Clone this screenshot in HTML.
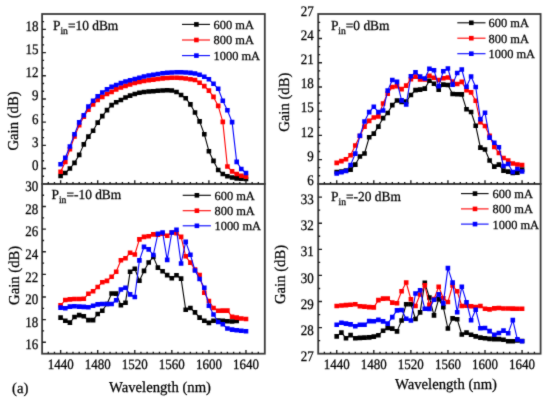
<!DOCTYPE html>
<html><head><meta charset="utf-8"><style>
html,body{margin:0;padding:0;background:#fff;}
body{width:550px;height:399px;overflow:hidden;}
svg{display:block;}
text{text-rendering:geometricPrecision;font-family:"Liberation Serif", serif;fill:#000;stroke:#000;stroke-width:0.25px;}
</style></head><body>
<svg width="550" height="399" viewBox="0 0 550 399">
<defs><filter id="soft" x="0" y="0" width="550" height="399" filterUnits="userSpaceOnUse" color-interpolation-filters="sRGB"><feConvolveMatrix order="3" kernelMatrix="0.02 0.08 0.02 0.08 0.60 0.08 0.02 0.08 0.02" divisor="1" edgeMode="duplicate"/></filter></defs>
<rect width="550" height="399" fill="#fff"/>
<g filter="url(#soft)">
<polyline points="60.6,176.0 65.3,173.0 69.9,168.5 74.5,162.9 79.2,154.9 83.8,144.4 88.4,136.6 93.1,130.8 97.7,122.6 102.3,116.1 107.0,110.1 111.6,105.1 116.2,102.3 120.9,100.0 125.5,97.5 130.1,95.6 134.8,94.0 139.4,92.8 144.0,92.0 148.7,91.5 153.3,91.2 157.9,90.8 162.6,90.5 167.2,90.3 171.8,90.5 176.5,92.0 181.1,95.0 185.7,98.2 190.4,104.4 195.0,112.5 199.6,121.4 204.3,134.2 208.9,151.2 213.5,160.9 218.2,170.0 222.8,174.0 227.4,176.3 232.1,177.5 236.7,178.4 241.3,178.8 246.0,179.0" fill="none" stroke="#000" stroke-width="1.10" stroke-linejoin="round"/>
<path d="M58.3 173.7h4.6v4.6h-4.6zM63.0 170.7h4.6v4.6h-4.6zM67.6 166.2h4.6v4.6h-4.6zM72.2 160.6h4.6v4.6h-4.6zM76.9 152.6h4.6v4.6h-4.6zM81.5 142.1h4.6v4.6h-4.6zM86.1 134.3h4.6v4.6h-4.6zM90.8 128.5h4.6v4.6h-4.6zM95.4 120.3h4.6v4.6h-4.6zM100.0 113.8h4.6v4.6h-4.6zM104.7 107.8h4.6v4.6h-4.6zM109.3 102.8h4.6v4.6h-4.6zM113.9 100.0h4.6v4.6h-4.6zM118.6 97.7h4.6v4.6h-4.6zM123.2 95.2h4.6v4.6h-4.6zM127.8 93.3h4.6v4.6h-4.6zM132.5 91.7h4.6v4.6h-4.6zM137.1 90.5h4.6v4.6h-4.6zM141.7 89.7h4.6v4.6h-4.6zM146.4 89.2h4.6v4.6h-4.6zM151.0 88.9h4.6v4.6h-4.6zM155.6 88.5h4.6v4.6h-4.6zM160.3 88.2h4.6v4.6h-4.6zM164.9 88.0h4.6v4.6h-4.6zM169.5 88.2h4.6v4.6h-4.6zM174.2 89.7h4.6v4.6h-4.6zM178.8 92.7h4.6v4.6h-4.6zM183.4 95.9h4.6v4.6h-4.6zM188.1 102.1h4.6v4.6h-4.6zM192.7 110.2h4.6v4.6h-4.6zM197.3 119.1h4.6v4.6h-4.6zM202.0 131.9h4.6v4.6h-4.6zM206.6 148.9h4.6v4.6h-4.6zM211.2 158.6h4.6v4.6h-4.6zM215.9 167.7h4.6v4.6h-4.6zM220.5 171.7h4.6v4.6h-4.6zM225.1 174.0h4.6v4.6h-4.6zM229.8 175.2h4.6v4.6h-4.6zM234.4 176.1h4.6v4.6h-4.6zM239.0 176.5h4.6v4.6h-4.6zM243.7 176.7h4.6v4.6h-4.6z" fill="#000"/>
<polyline points="60.6,171.7 65.3,162.0 69.9,149.3 74.5,136.5 79.2,125.2 83.8,116.7 88.4,109.6 93.1,104.5 97.7,100.0 102.3,96.9 107.0,94.0 111.6,91.9 116.2,89.4 120.9,87.5 125.5,85.9 130.1,84.4 134.8,83.0 139.4,81.9 144.0,81.0 148.7,80.3 153.3,79.6 157.9,79.0 162.6,78.4 167.2,78.0 171.8,77.8 176.5,77.8 181.1,78.0 185.7,78.5 190.4,79.3 195.0,80.0 199.6,82.7 204.3,86.1 208.9,90.6 213.5,96.9 218.2,105.9 222.8,121.9 227.4,166.5 232.1,171.4 236.7,174.0 241.3,175.8 246.0,176.7" fill="none" stroke="#f00" stroke-width="1.10" stroke-linejoin="round"/>
<path d="M58.3 169.4h4.6v4.6h-4.6zM63.0 159.7h4.6v4.6h-4.6zM67.6 147.0h4.6v4.6h-4.6zM72.2 134.2h4.6v4.6h-4.6zM76.9 122.9h4.6v4.6h-4.6zM81.5 114.4h4.6v4.6h-4.6zM86.1 107.3h4.6v4.6h-4.6zM90.8 102.2h4.6v4.6h-4.6zM95.4 97.7h4.6v4.6h-4.6zM100.0 94.6h4.6v4.6h-4.6zM104.7 91.7h4.6v4.6h-4.6zM109.3 89.6h4.6v4.6h-4.6zM113.9 87.1h4.6v4.6h-4.6zM118.6 85.2h4.6v4.6h-4.6zM123.2 83.6h4.6v4.6h-4.6zM127.8 82.1h4.6v4.6h-4.6zM132.5 80.7h4.6v4.6h-4.6zM137.1 79.6h4.6v4.6h-4.6zM141.7 78.7h4.6v4.6h-4.6zM146.4 78.0h4.6v4.6h-4.6zM151.0 77.3h4.6v4.6h-4.6zM155.6 76.7h4.6v4.6h-4.6zM160.3 76.1h4.6v4.6h-4.6zM164.9 75.7h4.6v4.6h-4.6zM169.5 75.5h4.6v4.6h-4.6zM174.2 75.5h4.6v4.6h-4.6zM178.8 75.7h4.6v4.6h-4.6zM183.4 76.2h4.6v4.6h-4.6zM188.1 77.0h4.6v4.6h-4.6zM192.7 77.7h4.6v4.6h-4.6zM197.3 80.4h4.6v4.6h-4.6zM202.0 83.8h4.6v4.6h-4.6zM206.6 88.3h4.6v4.6h-4.6zM211.2 94.6h4.6v4.6h-4.6zM215.9 103.6h4.6v4.6h-4.6zM220.5 119.6h4.6v4.6h-4.6zM225.1 164.2h4.6v4.6h-4.6zM229.8 169.1h4.6v4.6h-4.6zM234.4 171.7h4.6v4.6h-4.6zM239.0 173.5h4.6v4.6h-4.6zM243.7 174.4h4.6v4.6h-4.6z" fill="#f00"/>
<polyline points="60.6,164.2 65.3,157.8 69.9,146.5 74.5,134.3 79.2,122.4 83.8,115.2 88.4,106.5 93.1,100.8 97.7,96.2 102.3,92.5 107.0,89.4 111.6,86.9 116.2,85.0 120.9,83.1 125.5,81.5 130.1,80.3 134.8,79.0 139.4,77.8 144.0,76.5 148.7,75.5 153.3,74.8 157.9,74.0 162.6,73.3 167.2,72.8 171.8,72.5 176.5,72.3 181.1,72.3 185.7,72.5 190.4,72.9 195.0,73.5 199.6,74.8 204.3,76.7 208.9,79.3 213.5,83.8 218.2,88.8 222.8,100.8 227.4,110.3 232.1,122.1 236.7,161.9 241.3,169.0 246.0,173.0" fill="none" stroke="#00f" stroke-width="1.10" stroke-linejoin="round"/>
<path d="M58.3 161.9h4.6v4.6h-4.6zM63.0 155.5h4.6v4.6h-4.6zM67.6 144.2h4.6v4.6h-4.6zM72.2 132.0h4.6v4.6h-4.6zM76.9 120.1h4.6v4.6h-4.6zM81.5 112.9h4.6v4.6h-4.6zM86.1 104.2h4.6v4.6h-4.6zM90.8 98.5h4.6v4.6h-4.6zM95.4 93.9h4.6v4.6h-4.6zM100.0 90.2h4.6v4.6h-4.6zM104.7 87.1h4.6v4.6h-4.6zM109.3 84.6h4.6v4.6h-4.6zM113.9 82.7h4.6v4.6h-4.6zM118.6 80.8h4.6v4.6h-4.6zM123.2 79.2h4.6v4.6h-4.6zM127.8 78.0h4.6v4.6h-4.6zM132.5 76.7h4.6v4.6h-4.6zM137.1 75.5h4.6v4.6h-4.6zM141.7 74.2h4.6v4.6h-4.6zM146.4 73.2h4.6v4.6h-4.6zM151.0 72.5h4.6v4.6h-4.6zM155.6 71.7h4.6v4.6h-4.6zM160.3 71.0h4.6v4.6h-4.6zM164.9 70.5h4.6v4.6h-4.6zM169.5 70.2h4.6v4.6h-4.6zM174.2 70.0h4.6v4.6h-4.6zM178.8 70.0h4.6v4.6h-4.6zM183.4 70.2h4.6v4.6h-4.6zM188.1 70.6h4.6v4.6h-4.6zM192.7 71.2h4.6v4.6h-4.6zM197.3 72.5h4.6v4.6h-4.6zM202.0 74.4h4.6v4.6h-4.6zM206.6 77.0h4.6v4.6h-4.6zM211.2 81.5h4.6v4.6h-4.6zM215.9 86.5h4.6v4.6h-4.6zM220.5 98.5h4.6v4.6h-4.6zM225.1 108.0h4.6v4.6h-4.6zM229.8 119.8h4.6v4.6h-4.6zM234.4 159.6h4.6v4.6h-4.6zM239.0 166.7h4.6v4.6h-4.6zM243.7 170.7h4.6v4.6h-4.6z" fill="#00f"/>
<polyline points="336.7,172.0 341.4,171.5 346.0,170.5 350.6,169.6 355.3,164.6 359.9,156.5 364.5,153.5 369.2,137.3 373.8,133.6 378.4,126.6 383.1,118.1 387.7,113.0 392.3,105.1 397.0,100.5 401.6,102.0 406.2,101.5 410.9,95.0 415.5,90.1 420.1,89.6 424.8,88.6 429.4,80.7 434.0,83.7 438.7,89.6 443.3,84.6 447.9,85.0 452.6,94.0 457.2,94.3 461.8,94.4 466.5,109.3 471.1,112.0 475.7,125.7 480.4,147.6 485.0,149.5 489.6,160.5 494.3,166.6 498.9,164.6 503.5,170.6 508.2,171.6 512.8,173.0 517.4,172.6 522.1,169.6" fill="none" stroke="#000" stroke-width="1.10" stroke-linejoin="round"/>
<path d="M334.4 169.7h4.6v4.6h-4.6zM339.1 169.2h4.6v4.6h-4.6zM343.7 168.2h4.6v4.6h-4.6zM348.3 167.3h4.6v4.6h-4.6zM353.0 162.3h4.6v4.6h-4.6zM357.6 154.2h4.6v4.6h-4.6zM362.2 151.2h4.6v4.6h-4.6zM366.9 135.0h4.6v4.6h-4.6zM371.5 131.3h4.6v4.6h-4.6zM376.1 124.3h4.6v4.6h-4.6zM380.8 115.8h4.6v4.6h-4.6zM385.4 110.7h4.6v4.6h-4.6zM390.0 102.8h4.6v4.6h-4.6zM394.7 98.2h4.6v4.6h-4.6zM399.3 99.7h4.6v4.6h-4.6zM403.9 99.2h4.6v4.6h-4.6zM408.6 92.7h4.6v4.6h-4.6zM413.2 87.8h4.6v4.6h-4.6zM417.8 87.3h4.6v4.6h-4.6zM422.5 86.3h4.6v4.6h-4.6zM427.1 78.4h4.6v4.6h-4.6zM431.7 81.4h4.6v4.6h-4.6zM436.4 87.3h4.6v4.6h-4.6zM441.0 82.3h4.6v4.6h-4.6zM445.6 82.7h4.6v4.6h-4.6zM450.3 91.7h4.6v4.6h-4.6zM454.9 92.0h4.6v4.6h-4.6zM459.5 92.1h4.6v4.6h-4.6zM464.2 107.0h4.6v4.6h-4.6zM468.8 109.7h4.6v4.6h-4.6zM473.4 123.4h4.6v4.6h-4.6zM478.1 145.3h4.6v4.6h-4.6zM482.7 147.2h4.6v4.6h-4.6zM487.3 158.2h4.6v4.6h-4.6zM492.0 164.3h4.6v4.6h-4.6zM496.6 162.3h4.6v4.6h-4.6zM501.2 168.3h4.6v4.6h-4.6zM505.9 169.3h4.6v4.6h-4.6zM510.5 170.7h4.6v4.6h-4.6zM515.1 170.3h4.6v4.6h-4.6zM519.8 167.3h4.6v4.6h-4.6z" fill="#000"/>
<polyline points="336.7,162.9 341.4,161.1 346.0,159.3 350.6,155.3 355.3,145.5 359.9,136.0 364.5,126.6 369.2,120.9 373.8,117.5 378.4,116.4 383.1,103.5 387.7,93.6 392.3,87.0 397.0,86.2 401.6,89.1 406.2,85.6 410.9,79.2 415.5,76.6 420.1,79.5 424.8,79.5 429.4,75.8 434.0,77.8 438.7,80.0 443.3,78.2 447.9,77.5 452.6,81.6 457.2,84.0 461.8,81.9 466.5,90.3 471.1,92.4 475.7,100.8 480.4,122.3 485.0,126.0 489.6,135.7 494.3,147.0 498.9,153.0 503.5,158.0 508.2,160.5 512.8,163.5 517.4,164.5 522.1,165.0" fill="none" stroke="#f00" stroke-width="1.10" stroke-linejoin="round"/>
<path d="M334.4 160.6h4.6v4.6h-4.6zM339.1 158.8h4.6v4.6h-4.6zM343.7 157.0h4.6v4.6h-4.6zM348.3 153.0h4.6v4.6h-4.6zM353.0 143.2h4.6v4.6h-4.6zM357.6 133.7h4.6v4.6h-4.6zM362.2 124.3h4.6v4.6h-4.6zM366.9 118.6h4.6v4.6h-4.6zM371.5 115.2h4.6v4.6h-4.6zM376.1 114.1h4.6v4.6h-4.6zM380.8 101.2h4.6v4.6h-4.6zM385.4 91.3h4.6v4.6h-4.6zM390.0 84.7h4.6v4.6h-4.6zM394.7 83.9h4.6v4.6h-4.6zM399.3 86.8h4.6v4.6h-4.6zM403.9 83.3h4.6v4.6h-4.6zM408.6 76.9h4.6v4.6h-4.6zM413.2 74.3h4.6v4.6h-4.6zM417.8 77.2h4.6v4.6h-4.6zM422.5 77.2h4.6v4.6h-4.6zM427.1 73.5h4.6v4.6h-4.6zM431.7 75.5h4.6v4.6h-4.6zM436.4 77.7h4.6v4.6h-4.6zM441.0 75.9h4.6v4.6h-4.6zM445.6 75.2h4.6v4.6h-4.6zM450.3 79.3h4.6v4.6h-4.6zM454.9 81.7h4.6v4.6h-4.6zM459.5 79.6h4.6v4.6h-4.6zM464.2 88.0h4.6v4.6h-4.6zM468.8 90.1h4.6v4.6h-4.6zM473.4 98.5h4.6v4.6h-4.6zM478.1 120.0h4.6v4.6h-4.6zM482.7 123.7h4.6v4.6h-4.6zM487.3 133.4h4.6v4.6h-4.6zM492.0 144.7h4.6v4.6h-4.6zM496.6 150.7h4.6v4.6h-4.6zM501.2 155.7h4.6v4.6h-4.6zM505.9 158.2h4.6v4.6h-4.6zM510.5 161.2h4.6v4.6h-4.6zM515.1 162.2h4.6v4.6h-4.6zM519.8 162.7h4.6v4.6h-4.6z" fill="#f00"/>
<polyline points="336.7,173.5 341.4,172.2 346.0,171.0 350.6,165.0 355.3,153.6 359.9,135.8 364.5,121.5 369.2,112.1 373.8,106.8 378.4,112.1 383.1,110.5 387.7,90.6 392.3,80.0 397.0,81.9 401.6,100.4 406.2,104.5 410.9,76.3 415.5,72.2 420.1,76.6 424.8,78.5 429.4,68.8 434.0,70.2 438.7,86.2 443.3,71.2 447.9,68.5 452.6,84.6 457.2,73.0 461.8,69.5 466.5,86.8 471.1,76.5 475.7,87.0 480.4,119.2 485.0,112.8 489.6,137.6 494.3,142.7 498.9,147.2 503.5,166.0 508.2,164.0 512.8,172.0 517.4,169.0 522.1,171.5" fill="none" stroke="#00f" stroke-width="1.10" stroke-linejoin="round"/>
<path d="M334.4 171.2h4.6v4.6h-4.6zM339.1 169.9h4.6v4.6h-4.6zM343.7 168.7h4.6v4.6h-4.6zM348.3 162.7h4.6v4.6h-4.6zM353.0 151.3h4.6v4.6h-4.6zM357.6 133.5h4.6v4.6h-4.6zM362.2 119.2h4.6v4.6h-4.6zM366.9 109.8h4.6v4.6h-4.6zM371.5 104.5h4.6v4.6h-4.6zM376.1 109.8h4.6v4.6h-4.6zM380.8 108.2h4.6v4.6h-4.6zM385.4 88.3h4.6v4.6h-4.6zM390.0 77.7h4.6v4.6h-4.6zM394.7 79.6h4.6v4.6h-4.6zM399.3 98.1h4.6v4.6h-4.6zM403.9 102.2h4.6v4.6h-4.6zM408.6 74.0h4.6v4.6h-4.6zM413.2 69.9h4.6v4.6h-4.6zM417.8 74.3h4.6v4.6h-4.6zM422.5 76.2h4.6v4.6h-4.6zM427.1 66.5h4.6v4.6h-4.6zM431.7 67.9h4.6v4.6h-4.6zM436.4 83.9h4.6v4.6h-4.6zM441.0 68.9h4.6v4.6h-4.6zM445.6 66.2h4.6v4.6h-4.6zM450.3 82.3h4.6v4.6h-4.6zM454.9 70.7h4.6v4.6h-4.6zM459.5 67.2h4.6v4.6h-4.6zM464.2 84.5h4.6v4.6h-4.6zM468.8 74.2h4.6v4.6h-4.6zM473.4 84.7h4.6v4.6h-4.6zM478.1 116.9h4.6v4.6h-4.6zM482.7 110.5h4.6v4.6h-4.6zM487.3 135.3h4.6v4.6h-4.6zM492.0 140.4h4.6v4.6h-4.6zM496.6 144.9h4.6v4.6h-4.6zM501.2 163.7h4.6v4.6h-4.6zM505.9 161.7h4.6v4.6h-4.6zM510.5 169.7h4.6v4.6h-4.6zM515.1 166.7h4.6v4.6h-4.6zM519.8 169.2h4.6v4.6h-4.6z" fill="#00f"/>
<polyline points="60.6,317.6 65.3,320.7 69.9,322.6 74.5,317.0 79.2,315.1 83.8,316.3 88.4,320.1 93.1,320.1 97.7,314.0 102.3,310.7 107.0,304.0 111.6,293.5 116.2,293.6 120.9,305.2 125.5,302.7 130.1,271.8 134.8,268.8 139.4,280.8 144.0,270.9 148.7,262.5 153.3,256.9 157.9,267.6 162.6,271.3 167.2,275.1 171.8,278.2 176.5,275.3 181.1,278.6 185.7,309.7 190.4,308.0 195.0,312.4 199.6,317.6 204.3,320.8 208.9,322.9 213.5,320.8 218.2,320.5 222.8,320.8 227.4,321.2 232.1,321.5 236.7,321.0" fill="none" stroke="#000" stroke-width="1.10" stroke-linejoin="round"/>
<path d="M58.3 315.3h4.6v4.6h-4.6zM63.0 318.4h4.6v4.6h-4.6zM67.6 320.3h4.6v4.6h-4.6zM72.2 314.7h4.6v4.6h-4.6zM76.9 312.8h4.6v4.6h-4.6zM81.5 314.0h4.6v4.6h-4.6zM86.1 317.8h4.6v4.6h-4.6zM90.8 317.8h4.6v4.6h-4.6zM95.4 311.7h4.6v4.6h-4.6zM100.0 308.4h4.6v4.6h-4.6zM104.7 301.7h4.6v4.6h-4.6zM109.3 291.2h4.6v4.6h-4.6zM113.9 291.3h4.6v4.6h-4.6zM118.6 302.9h4.6v4.6h-4.6zM123.2 300.4h4.6v4.6h-4.6zM127.8 269.5h4.6v4.6h-4.6zM132.5 266.5h4.6v4.6h-4.6zM137.1 278.5h4.6v4.6h-4.6zM141.7 268.6h4.6v4.6h-4.6zM146.4 260.2h4.6v4.6h-4.6zM151.0 254.6h4.6v4.6h-4.6zM155.6 265.3h4.6v4.6h-4.6zM160.3 269.0h4.6v4.6h-4.6zM164.9 272.8h4.6v4.6h-4.6zM169.5 275.9h4.6v4.6h-4.6zM174.2 273.0h4.6v4.6h-4.6zM178.8 276.3h4.6v4.6h-4.6zM183.4 307.4h4.6v4.6h-4.6zM188.1 305.7h4.6v4.6h-4.6zM192.7 310.1h4.6v4.6h-4.6zM197.3 315.3h4.6v4.6h-4.6zM202.0 318.5h4.6v4.6h-4.6zM206.6 320.6h4.6v4.6h-4.6zM211.2 318.5h4.6v4.6h-4.6zM215.9 318.2h4.6v4.6h-4.6zM220.5 318.5h4.6v4.6h-4.6zM225.1 318.9h4.6v4.6h-4.6zM229.8 319.2h4.6v4.6h-4.6zM234.4 318.7h4.6v4.6h-4.6z" fill="#000"/>
<polyline points="60.6,305.4 65.3,300.0 69.9,299.4 74.5,299.0 79.2,299.0 83.8,298.8 88.4,293.8 93.1,291.3 97.7,287.0 102.3,282.2 107.0,280.9 111.6,276.8 116.2,271.8 120.9,260.2 125.5,258.3 130.1,252.7 134.8,254.5 139.4,239.4 144.0,236.9 148.7,236.3 153.3,234.4 157.9,234.8 162.6,233.8 167.2,235.7 171.8,232.5 176.5,233.2 181.1,236.9 185.7,256.3 190.4,262.6 195.0,269.5 199.6,275.0 204.3,292.7 208.9,301.0 213.5,308.0 218.2,310.7 222.8,310.6 227.4,310.6 232.1,316.8 236.7,317.6 241.3,318.5 246.0,319.0" fill="none" stroke="#f00" stroke-width="1.10" stroke-linejoin="round"/>
<path d="M58.3 303.1h4.6v4.6h-4.6zM63.0 297.7h4.6v4.6h-4.6zM67.6 297.1h4.6v4.6h-4.6zM72.2 296.7h4.6v4.6h-4.6zM76.9 296.7h4.6v4.6h-4.6zM81.5 296.5h4.6v4.6h-4.6zM86.1 291.5h4.6v4.6h-4.6zM90.8 289.0h4.6v4.6h-4.6zM95.4 284.7h4.6v4.6h-4.6zM100.0 279.9h4.6v4.6h-4.6zM104.7 278.6h4.6v4.6h-4.6zM109.3 274.5h4.6v4.6h-4.6zM113.9 269.5h4.6v4.6h-4.6zM118.6 257.9h4.6v4.6h-4.6zM123.2 256.0h4.6v4.6h-4.6zM127.8 250.4h4.6v4.6h-4.6zM132.5 252.2h4.6v4.6h-4.6zM137.1 237.1h4.6v4.6h-4.6zM141.7 234.6h4.6v4.6h-4.6zM146.4 234.0h4.6v4.6h-4.6zM151.0 232.1h4.6v4.6h-4.6zM155.6 232.5h4.6v4.6h-4.6zM160.3 231.5h4.6v4.6h-4.6zM164.9 233.4h4.6v4.6h-4.6zM169.5 230.2h4.6v4.6h-4.6zM174.2 230.9h4.6v4.6h-4.6zM178.8 234.6h4.6v4.6h-4.6zM183.4 254.0h4.6v4.6h-4.6zM188.1 260.3h4.6v4.6h-4.6zM192.7 267.2h4.6v4.6h-4.6zM197.3 272.7h4.6v4.6h-4.6zM202.0 290.4h4.6v4.6h-4.6zM206.6 298.7h4.6v4.6h-4.6zM211.2 305.7h4.6v4.6h-4.6zM215.9 308.4h4.6v4.6h-4.6zM220.5 308.3h4.6v4.6h-4.6zM225.1 308.3h4.6v4.6h-4.6zM229.8 314.5h4.6v4.6h-4.6zM234.4 315.3h4.6v4.6h-4.6zM239.0 316.2h4.6v4.6h-4.6zM243.7 316.7h4.6v4.6h-4.6z" fill="#f00"/>
<polyline points="60.6,307.6 65.3,308.2 69.9,306.6 74.5,306.3 79.2,306.6 83.8,306.9 88.4,307.3 93.1,305.7 97.7,304.4 102.3,304.0 107.0,304.0 111.6,304.0 116.2,300.3 120.9,289.5 125.5,287.7 130.1,294.4 134.8,297.0 139.4,260.4 144.0,246.9 148.7,249.4 153.3,255.0 157.9,233.8 162.6,232.5 167.2,259.9 171.8,232.5 176.5,229.8 181.1,263.5 185.7,241.9 190.4,254.8 195.0,270.5 199.6,279.0 204.3,287.8 208.9,305.7 213.5,314.5 218.2,322.0 222.8,324.3 227.4,328.5 232.1,329.6 236.7,330.3 241.3,330.8 246.0,331.3" fill="none" stroke="#00f" stroke-width="1.10" stroke-linejoin="round"/>
<path d="M58.3 305.3h4.6v4.6h-4.6zM63.0 305.9h4.6v4.6h-4.6zM67.6 304.3h4.6v4.6h-4.6zM72.2 304.0h4.6v4.6h-4.6zM76.9 304.3h4.6v4.6h-4.6zM81.5 304.6h4.6v4.6h-4.6zM86.1 305.0h4.6v4.6h-4.6zM90.8 303.4h4.6v4.6h-4.6zM95.4 302.1h4.6v4.6h-4.6zM100.0 301.7h4.6v4.6h-4.6zM104.7 301.7h4.6v4.6h-4.6zM109.3 301.7h4.6v4.6h-4.6zM113.9 298.0h4.6v4.6h-4.6zM118.6 287.2h4.6v4.6h-4.6zM123.2 285.4h4.6v4.6h-4.6zM127.8 292.1h4.6v4.6h-4.6zM132.5 294.7h4.6v4.6h-4.6zM137.1 258.1h4.6v4.6h-4.6zM141.7 244.6h4.6v4.6h-4.6zM146.4 247.1h4.6v4.6h-4.6zM151.0 252.7h4.6v4.6h-4.6zM155.6 231.5h4.6v4.6h-4.6zM160.3 230.2h4.6v4.6h-4.6zM164.9 257.6h4.6v4.6h-4.6zM169.5 230.2h4.6v4.6h-4.6zM174.2 227.5h4.6v4.6h-4.6zM178.8 261.2h4.6v4.6h-4.6zM183.4 239.6h4.6v4.6h-4.6zM188.1 252.5h4.6v4.6h-4.6zM192.7 268.2h4.6v4.6h-4.6zM197.3 276.7h4.6v4.6h-4.6zM202.0 285.5h4.6v4.6h-4.6zM206.6 303.4h4.6v4.6h-4.6zM211.2 312.2h4.6v4.6h-4.6zM215.9 319.7h4.6v4.6h-4.6zM220.5 322.0h4.6v4.6h-4.6zM225.1 326.2h4.6v4.6h-4.6zM229.8 327.3h4.6v4.6h-4.6zM234.4 328.0h4.6v4.6h-4.6zM239.0 328.5h4.6v4.6h-4.6zM243.7 329.0h4.6v4.6h-4.6z" fill="#00f"/>
<polyline points="336.7,336.4 341.4,332.6 346.0,338.2 350.6,335.1 355.3,338.2 359.9,337.9 364.5,337.6 369.2,337.4 373.8,336.6 378.4,335.3 383.1,330.7 387.7,328.0 392.3,328.6 397.0,331.4 401.6,320.5 406.2,304.2 410.9,304.2 415.5,319.0 420.1,312.4 424.8,282.8 429.4,297.5 434.0,315.4 438.7,299.1 443.3,307.2 447.9,328.5 452.6,318.4 457.2,319.3 461.8,334.5 466.5,332.6 471.1,334.8 475.7,336.4 480.4,337.6 485.0,338.2 489.6,338.9 494.3,339.1 498.9,339.1 503.5,339.8 508.2,341.2 512.8,341.2 517.4,340.5 522.1,341.0" fill="none" stroke="#000" stroke-width="1.10" stroke-linejoin="round"/>
<path d="M334.4 334.1h4.6v4.6h-4.6zM339.1 330.3h4.6v4.6h-4.6zM343.7 335.9h4.6v4.6h-4.6zM348.3 332.8h4.6v4.6h-4.6zM353.0 335.9h4.6v4.6h-4.6zM357.6 335.6h4.6v4.6h-4.6zM362.2 335.3h4.6v4.6h-4.6zM366.9 335.1h4.6v4.6h-4.6zM371.5 334.3h4.6v4.6h-4.6zM376.1 333.0h4.6v4.6h-4.6zM380.8 328.4h4.6v4.6h-4.6zM385.4 325.7h4.6v4.6h-4.6zM390.0 326.3h4.6v4.6h-4.6zM394.7 329.1h4.6v4.6h-4.6zM399.3 318.2h4.6v4.6h-4.6zM403.9 301.9h4.6v4.6h-4.6zM408.6 301.9h4.6v4.6h-4.6zM413.2 316.7h4.6v4.6h-4.6zM417.8 310.1h4.6v4.6h-4.6zM422.5 280.5h4.6v4.6h-4.6zM427.1 295.2h4.6v4.6h-4.6zM431.7 313.1h4.6v4.6h-4.6zM436.4 296.8h4.6v4.6h-4.6zM441.0 304.9h4.6v4.6h-4.6zM445.6 326.2h4.6v4.6h-4.6zM450.3 316.1h4.6v4.6h-4.6zM454.9 317.0h4.6v4.6h-4.6zM459.5 332.2h4.6v4.6h-4.6zM464.2 330.3h4.6v4.6h-4.6zM468.8 332.5h4.6v4.6h-4.6zM473.4 334.1h4.6v4.6h-4.6zM478.1 335.3h4.6v4.6h-4.6zM482.7 335.9h4.6v4.6h-4.6zM487.3 336.6h4.6v4.6h-4.6zM492.0 336.8h4.6v4.6h-4.6zM496.6 336.8h4.6v4.6h-4.6zM501.2 337.5h4.6v4.6h-4.6zM505.9 338.9h4.6v4.6h-4.6zM510.5 338.9h4.6v4.6h-4.6zM515.1 338.2h4.6v4.6h-4.6zM519.8 338.7h4.6v4.6h-4.6z" fill="#000"/>
<polyline points="336.7,306.0 341.4,305.5 346.0,305.1 350.6,304.7 355.3,304.2 359.9,306.3 364.5,306.6 369.2,307.1 373.8,307.4 378.4,300.1 383.1,298.6 387.7,298.5 392.3,302.6 397.0,303.2 401.6,291.2 406.2,282.5 410.9,299.3 415.5,306.0 420.1,294.5 424.8,285.3 429.4,304.8 434.0,299.1 438.7,286.8 443.3,298.3 447.9,302.0 452.6,285.5 457.2,291.3 461.8,306.0 466.5,305.8 471.1,306.3 475.7,307.0 480.4,306.0 485.0,308.7 489.6,309.4 494.3,308.4 498.9,308.0 503.5,308.5 508.2,308.5 512.8,308.6 517.4,308.7 522.1,308.8" fill="none" stroke="#f00" stroke-width="1.10" stroke-linejoin="round"/>
<path d="M334.4 303.7h4.6v4.6h-4.6zM339.1 303.2h4.6v4.6h-4.6zM343.7 302.8h4.6v4.6h-4.6zM348.3 302.4h4.6v4.6h-4.6zM353.0 301.9h4.6v4.6h-4.6zM357.6 304.0h4.6v4.6h-4.6zM362.2 304.3h4.6v4.6h-4.6zM366.9 304.8h4.6v4.6h-4.6zM371.5 305.1h4.6v4.6h-4.6zM376.1 297.8h4.6v4.6h-4.6zM380.8 296.3h4.6v4.6h-4.6zM385.4 296.2h4.6v4.6h-4.6zM390.0 300.3h4.6v4.6h-4.6zM394.7 300.9h4.6v4.6h-4.6zM399.3 288.9h4.6v4.6h-4.6zM403.9 280.2h4.6v4.6h-4.6zM408.6 297.0h4.6v4.6h-4.6zM413.2 303.7h4.6v4.6h-4.6zM417.8 292.2h4.6v4.6h-4.6zM422.5 283.0h4.6v4.6h-4.6zM427.1 302.5h4.6v4.6h-4.6zM431.7 296.8h4.6v4.6h-4.6zM436.4 284.5h4.6v4.6h-4.6zM441.0 296.0h4.6v4.6h-4.6zM445.6 299.7h4.6v4.6h-4.6zM450.3 283.2h4.6v4.6h-4.6zM454.9 289.0h4.6v4.6h-4.6zM459.5 303.7h4.6v4.6h-4.6zM464.2 303.5h4.6v4.6h-4.6zM468.8 304.0h4.6v4.6h-4.6zM473.4 304.7h4.6v4.6h-4.6zM478.1 303.7h4.6v4.6h-4.6zM482.7 306.4h4.6v4.6h-4.6zM487.3 307.1h4.6v4.6h-4.6zM492.0 306.1h4.6v4.6h-4.6zM496.6 305.7h4.6v4.6h-4.6zM501.2 306.2h4.6v4.6h-4.6zM505.9 306.2h4.6v4.6h-4.6zM510.5 306.3h4.6v4.6h-4.6zM515.1 306.4h4.6v4.6h-4.6zM519.8 306.5h4.6v4.6h-4.6z" fill="#f00"/>
<polyline points="336.7,324.8 341.4,322.8 346.0,323.6 350.6,324.4 355.3,326.3 359.9,324.8 364.5,324.8 369.2,321.1 373.8,321.3 378.4,319.9 383.1,321.4 387.7,323.6 392.3,317.1 397.0,310.4 401.6,310.0 406.2,318.8 410.9,320.5 415.5,293.5 420.1,290.3 424.8,308.7 429.4,308.9 434.0,299.8 438.7,294.4 443.3,303.4 447.9,268.1 452.6,282.6 457.2,312.2 461.8,286.7 466.5,302.2 471.1,320.2 475.7,309.7 480.4,328.2 485.0,328.0 489.6,331.1 494.3,334.8 498.9,333.0 503.5,330.6 508.2,333.3 512.8,320.1 517.4,339.4 522.1,341.2" fill="none" stroke="#00f" stroke-width="1.10" stroke-linejoin="round"/>
<path d="M334.4 322.5h4.6v4.6h-4.6zM339.1 320.5h4.6v4.6h-4.6zM343.7 321.3h4.6v4.6h-4.6zM348.3 322.1h4.6v4.6h-4.6zM353.0 324.0h4.6v4.6h-4.6zM357.6 322.5h4.6v4.6h-4.6zM362.2 322.5h4.6v4.6h-4.6zM366.9 318.8h4.6v4.6h-4.6zM371.5 319.0h4.6v4.6h-4.6zM376.1 317.6h4.6v4.6h-4.6zM380.8 319.1h4.6v4.6h-4.6zM385.4 321.3h4.6v4.6h-4.6zM390.0 314.8h4.6v4.6h-4.6zM394.7 308.1h4.6v4.6h-4.6zM399.3 307.7h4.6v4.6h-4.6zM403.9 316.5h4.6v4.6h-4.6zM408.6 318.2h4.6v4.6h-4.6zM413.2 291.2h4.6v4.6h-4.6zM417.8 288.0h4.6v4.6h-4.6zM422.5 306.4h4.6v4.6h-4.6zM427.1 306.6h4.6v4.6h-4.6zM431.7 297.5h4.6v4.6h-4.6zM436.4 292.1h4.6v4.6h-4.6zM441.0 301.1h4.6v4.6h-4.6zM445.6 265.8h4.6v4.6h-4.6zM450.3 280.3h4.6v4.6h-4.6zM454.9 309.9h4.6v4.6h-4.6zM459.5 284.4h4.6v4.6h-4.6zM464.2 299.9h4.6v4.6h-4.6zM468.8 317.9h4.6v4.6h-4.6zM473.4 307.4h4.6v4.6h-4.6zM478.1 325.9h4.6v4.6h-4.6zM482.7 325.7h4.6v4.6h-4.6zM487.3 328.8h4.6v4.6h-4.6zM492.0 332.5h4.6v4.6h-4.6zM496.6 330.7h4.6v4.6h-4.6zM501.2 328.3h4.6v4.6h-4.6zM505.9 331.0h4.6v4.6h-4.6zM510.5 317.8h4.6v4.6h-4.6zM515.1 337.1h4.6v4.6h-4.6zM519.8 338.9h4.6v4.6h-4.6z" fill="#00f"/>
<rect x="42.10" y="14.00" width="222.70" height="169.90" fill="none" stroke="#3a3a3a" stroke-width="1.80"/>
<rect x="42.10" y="183.90" width="222.70" height="169.80" fill="none" stroke="#3a3a3a" stroke-width="1.80"/>
<rect x="318.20" y="14.00" width="222.40" height="169.90" fill="none" stroke="#3a3a3a" stroke-width="1.80"/>
<rect x="318.20" y="183.90" width="222.40" height="169.80" fill="none" stroke="#3a3a3a" stroke-width="1.80"/>
<path d="M48.28 183.90v-2.00M54.46 183.90v-2.00M60.63 183.90v-3.60M66.81 183.90v-2.00M72.99 183.90v-2.00M79.17 183.90v-2.00M85.34 183.90v-2.00M91.52 183.90v-2.00M97.70 183.90v-3.60M103.88 183.90v-2.00M110.06 183.90v-2.00M116.23 183.90v-2.00M122.41 183.90v-2.00M128.59 183.90v-2.00M134.77 183.90v-3.60M140.94 183.90v-2.00M147.12 183.90v-2.00M153.30 183.90v-2.00M159.48 183.90v-2.00M165.66 183.90v-2.00M171.83 183.90v-3.60M178.01 183.90v-2.00M184.19 183.90v-2.00M190.37 183.90v-2.00M196.54 183.90v-2.00M202.72 183.90v-2.00M208.90 183.90v-3.60M215.08 183.90v-2.00M221.26 183.90v-2.00M227.43 183.90v-2.00M233.61 183.90v-2.00M239.79 183.90v-2.00M245.97 183.90v-3.60M252.14 183.90v-2.00M258.32 183.90v-2.00" stroke="#1c1c1c" stroke-width="1.35" fill="none"/>
<path d="M48.28 353.70v-2.00M54.46 353.70v-2.00M60.63 353.70v-3.60M66.81 353.70v-2.00M72.99 353.70v-2.00M79.17 353.70v-2.00M85.34 353.70v-2.00M91.52 353.70v-2.00M97.70 353.70v-3.60M103.88 353.70v-2.00M110.06 353.70v-2.00M116.23 353.70v-2.00M122.41 353.70v-2.00M128.59 353.70v-2.00M134.77 353.70v-3.60M140.94 353.70v-2.00M147.12 353.70v-2.00M153.30 353.70v-2.00M159.48 353.70v-2.00M165.66 353.70v-2.00M171.83 353.70v-3.60M178.01 353.70v-2.00M184.19 353.70v-2.00M190.37 353.70v-2.00M196.54 353.70v-2.00M202.72 353.70v-2.00M208.90 353.70v-3.60M215.08 353.70v-2.00M221.26 353.70v-2.00M227.43 353.70v-2.00M233.61 353.70v-2.00M239.79 353.70v-2.00M245.97 353.70v-3.60M252.14 353.70v-2.00M258.32 353.70v-2.00" stroke="#1c1c1c" stroke-width="1.35" fill="none"/>
<path d="M324.38 183.90v-2.00M330.56 183.90v-2.00M336.73 183.90v-3.60M342.91 183.90v-2.00M349.09 183.90v-2.00M355.27 183.90v-2.00M361.44 183.90v-2.00M367.62 183.90v-2.00M373.80 183.90v-3.60M379.98 183.90v-2.00M386.16 183.90v-2.00M392.33 183.90v-2.00M398.51 183.90v-2.00M404.69 183.90v-2.00M410.87 183.90v-3.60M417.04 183.90v-2.00M423.22 183.90v-2.00M429.40 183.90v-2.00M435.58 183.90v-2.00M441.76 183.90v-2.00M447.93 183.90v-3.60M454.11 183.90v-2.00M460.29 183.90v-2.00M466.47 183.90v-2.00M472.64 183.90v-2.00M478.82 183.90v-2.00M485.00 183.90v-3.60M491.18 183.90v-2.00M497.36 183.90v-2.00M503.53 183.90v-2.00M509.71 183.90v-2.00M515.89 183.90v-2.00M522.07 183.90v-3.60M528.24 183.90v-2.00M534.42 183.90v-2.00" stroke="#1c1c1c" stroke-width="1.35" fill="none"/>
<path d="M324.38 353.70v-2.00M330.56 353.70v-2.00M336.73 353.70v-3.60M342.91 353.70v-2.00M349.09 353.70v-2.00M355.27 353.70v-2.00M361.44 353.70v-2.00M367.62 353.70v-2.00M373.80 353.70v-3.60M379.98 353.70v-2.00M386.16 353.70v-2.00M392.33 353.70v-2.00M398.51 353.70v-2.00M404.69 353.70v-2.00M410.87 353.70v-3.60M417.04 353.70v-2.00M423.22 353.70v-2.00M429.40 353.70v-2.00M435.58 353.70v-2.00M441.76 353.70v-2.00M447.93 353.70v-3.60M454.11 353.70v-2.00M460.29 353.70v-2.00M466.47 353.70v-2.00M472.64 353.70v-2.00M478.82 353.70v-2.00M485.00 353.70v-3.60M491.18 353.70v-2.00M497.36 353.70v-2.00M503.53 353.70v-2.00M509.71 353.70v-2.00M515.89 353.70v-2.00M522.07 353.70v-3.60M528.24 353.70v-2.00M534.42 353.70v-2.00" stroke="#1c1c1c" stroke-width="1.35" fill="none"/>
<path d="M42.10 176.23h2.00M42.10 168.50h3.80M42.10 160.77h2.00M42.10 153.05h2.00M42.10 145.32h3.80M42.10 137.59h2.00M42.10 129.87h2.00M42.10 122.14h3.80M42.10 114.41h2.00M42.10 106.68h2.00M42.10 98.96h3.80M42.10 91.23h2.00M42.10 83.50h2.00M42.10 75.78h3.80M42.10 68.05h2.00M42.10 60.32h2.00M42.10 52.59h3.80M42.10 44.87h2.00M42.10 37.14h2.00M42.10 29.41h3.80M42.10 21.69h2.00" stroke="#1c1c1c" stroke-width="1.35" fill="none"/>
<path d="M318.20 175.73h2.00M318.20 167.66h2.00M318.20 159.59h3.80M318.20 151.52h2.00M318.20 143.45h2.00M318.20 135.38h3.80M318.20 127.31h2.00M318.20 119.24h2.00M318.20 111.17h3.80M318.20 103.10h2.00M318.20 95.03h2.00M318.20 86.96h3.80M318.20 78.89h2.00M318.20 70.82h2.00M318.20 62.75h3.80M318.20 54.68h2.00M318.20 46.61h2.00M318.20 38.54h3.80M318.20 30.47h2.00M318.20 22.40h2.00" stroke="#1c1c1c" stroke-width="1.35" fill="none"/>
<path d="M42.10 342.24h3.80M42.10 330.93h2.00M42.10 319.62h3.80M42.10 308.31h2.00M42.10 297.00h3.80M42.10 285.69h2.00M42.10 274.38h3.80M42.10 263.07h2.00M42.10 251.76h3.80M42.10 240.45h2.00M42.10 229.14h3.80M42.10 217.83h2.00M42.10 206.52h3.80M42.10 195.21h2.00" stroke="#1c1c1c" stroke-width="1.35" fill="none"/>
<path d="M318.20 340.65h2.00M318.20 327.60h3.80M318.20 314.55h2.00M318.20 301.50h3.80M318.20 288.45h2.00M318.20 275.40h3.80M318.20 262.35h2.00M318.20 249.30h3.80M318.20 236.25h2.00M318.20 223.20h3.80M318.20 210.15h2.00M318.20 197.10h3.80" stroke="#1c1c1c" stroke-width="1.35" fill="none"/>
<text transform="translate(38.60 170.02) scale(1 1.120)" font-size="13.00" text-anchor="end">0</text>
<text transform="translate(38.60 146.84) scale(1 1.120)" font-size="13.00" text-anchor="end">3</text>
<text transform="translate(38.60 123.66) scale(1 1.120)" font-size="13.00" text-anchor="end">6</text>
<text transform="translate(38.60 100.48) scale(1 1.120)" font-size="13.00" text-anchor="end">9</text>
<text transform="translate(38.60 77.30) scale(1 1.120)" font-size="13.00" text-anchor="end">12</text>
<text transform="translate(38.60 54.11) scale(1 1.120)" font-size="13.00" text-anchor="end">15</text>
<text transform="translate(38.60 30.93) scale(1 1.120)" font-size="13.00" text-anchor="end">18</text>
<text transform="translate(313.80 185.02) scale(1 1.120)" font-size="13.00" text-anchor="end">6</text>
<text transform="translate(313.80 160.81) scale(1 1.120)" font-size="13.00" text-anchor="end">9</text>
<text transform="translate(313.80 136.60) scale(1 1.120)" font-size="13.00" text-anchor="end">12</text>
<text transform="translate(313.80 112.39) scale(1 1.120)" font-size="13.00" text-anchor="end">15</text>
<text transform="translate(313.80 88.18) scale(1 1.120)" font-size="13.00" text-anchor="end">18</text>
<text transform="translate(313.80 63.97) scale(1 1.120)" font-size="13.00" text-anchor="end">21</text>
<text transform="translate(313.80 39.76) scale(1 1.120)" font-size="13.00" text-anchor="end">24</text>
<text transform="translate(313.80 15.55) scale(1 1.120)" font-size="13.00" text-anchor="end">27</text>
<text transform="translate(38.30 349.36) scale(1 1.120)" font-size="13.00" text-anchor="end">16</text>
<text transform="translate(38.30 326.74) scale(1 1.120)" font-size="13.00" text-anchor="end">18</text>
<text transform="translate(38.30 304.12) scale(1 1.120)" font-size="13.00" text-anchor="end">20</text>
<text transform="translate(38.30 281.50) scale(1 1.120)" font-size="13.00" text-anchor="end">22</text>
<text transform="translate(38.30 258.88) scale(1 1.120)" font-size="13.00" text-anchor="end">24</text>
<text transform="translate(38.30 236.26) scale(1 1.120)" font-size="13.00" text-anchor="end">26</text>
<text transform="translate(38.30 213.64) scale(1 1.120)" font-size="13.00" text-anchor="end">28</text>
<text transform="translate(38.30 191.02) scale(1 1.120)" font-size="13.00" text-anchor="end">30</text>
<text transform="translate(313.80 360.82) scale(1 1.120)" font-size="13.00" text-anchor="end">27</text>
<text transform="translate(313.80 334.72) scale(1 1.120)" font-size="13.00" text-anchor="end">28</text>
<text transform="translate(313.80 308.62) scale(1 1.120)" font-size="13.00" text-anchor="end">29</text>
<text transform="translate(313.80 282.52) scale(1 1.120)" font-size="13.00" text-anchor="end">30</text>
<text transform="translate(313.80 256.42) scale(1 1.120)" font-size="13.00" text-anchor="end">31</text>
<text transform="translate(313.80 230.32) scale(1 1.120)" font-size="13.00" text-anchor="end">32</text>
<text transform="translate(313.80 204.22) scale(1 1.120)" font-size="13.00" text-anchor="end">33</text>
<text transform="translate(60.63 369.00) scale(1 1.100)" font-size="13.00" text-anchor="middle">1440</text>
<text transform="translate(97.70 369.00) scale(1 1.100)" font-size="13.00" text-anchor="middle">1480</text>
<text transform="translate(134.77 369.00) scale(1 1.100)" font-size="13.00" text-anchor="middle">1520</text>
<text transform="translate(171.83 369.00) scale(1 1.100)" font-size="13.00" text-anchor="middle">1560</text>
<text transform="translate(208.90 369.00) scale(1 1.100)" font-size="13.00" text-anchor="middle">1600</text>
<text transform="translate(245.97 369.00) scale(1 1.100)" font-size="13.00" text-anchor="middle">1640</text>
<text transform="translate(336.73 369.00) scale(1 1.100)" font-size="13.00" text-anchor="middle">1440</text>
<text transform="translate(373.80 369.00) scale(1 1.100)" font-size="13.00" text-anchor="middle">1480</text>
<text transform="translate(410.87 369.00) scale(1 1.100)" font-size="13.00" text-anchor="middle">1520</text>
<text transform="translate(447.93 369.00) scale(1 1.100)" font-size="13.00" text-anchor="middle">1560</text>
<text transform="translate(485.00 369.00) scale(1 1.100)" font-size="13.00" text-anchor="middle">1600</text>
<text transform="translate(522.07 369.00) scale(1 1.100)" font-size="13.00" text-anchor="middle">1640</text>
<text transform="translate(160.00 391.50) scale(1 1.030)" font-size="14.70" text-anchor="middle">Wavelength (nm)</text>
<text transform="translate(446.00 389.20) scale(1 1.030)" font-size="14.70" text-anchor="middle">Wavelength (nm)</text>
<text transform="translate(12.00 392.50) scale(1 1.030)" font-size="14.70" text-anchor="start">(a)</text>
<text transform="translate(17.90 121.00) rotate(-90) scale(1 1.030)" font-size="14.70" text-anchor="middle">Gain (dB)</text>
<text transform="translate(18.80 275.40) rotate(-90) scale(1 1.030)" font-size="14.70" text-anchor="middle">Gain (dB)</text>
<text transform="translate(288.50 102.20) rotate(-90) scale(1 1.030)" font-size="14.70" text-anchor="middle">Gain (dB)</text>
<text transform="translate(285.30 274.50) rotate(-90) scale(1 1.030)" font-size="14.70" text-anchor="middle">Gain (dB)</text>
<text transform="translate(53.00 29.90) scale(1 1.030)" font-size="13.40">P<tspan font-size="9.6" dy="3.7">in</tspan><tspan dy="-3.7">=10 dBm</tspan></text>
<text transform="translate(330.90 29.90) scale(1 1.030)" font-size="13.40">P<tspan font-size="9.6" dy="3.7">in</tspan><tspan dy="-3.7">=0 dBm</tspan></text>
<text transform="translate(51.50 199.20) scale(1 1.030)" font-size="13.40">P<tspan font-size="9.6" dy="3.7">in</tspan><tspan dy="-3.7">=-10 dBm</tspan></text>
<text transform="translate(331.10 201.30) scale(1 1.030)" font-size="13.40">P<tspan font-size="9.6" dy="3.7">in</tspan><tspan dy="-3.7">=-20 dBm</tspan></text>
<path d="M182.00 24.40H210.00" stroke="#000" stroke-width="1.10"/>
<rect x="194.10" y="22.10" width="4.60" height="4.60" fill="#000"/>
<text transform="translate(213.60 28.80) scale(1 1.000)" font-size="12.40" text-anchor="start">600 mA</text>
<path d="M182.00 40.00H210.00" stroke="#f00" stroke-width="1.10"/>
<rect x="194.10" y="37.70" width="4.60" height="4.60" fill="#f00"/>
<text transform="translate(213.60 44.40) scale(1 1.000)" font-size="12.40" text-anchor="start">800 mA</text>
<path d="M182.00 55.60H210.00" stroke="#00f" stroke-width="1.10"/>
<rect x="194.10" y="53.30" width="4.60" height="4.60" fill="#00f"/>
<text transform="translate(213.60 60.00) scale(1 1.000)" font-size="12.40" text-anchor="start">1000 mA</text>
<path d="M457.30 22.80H485.50" stroke="#000" stroke-width="1.10"/>
<rect x="469.00" y="20.50" width="4.60" height="4.60" fill="#000"/>
<text transform="translate(488.60 27.20) scale(1 1.000)" font-size="12.40" text-anchor="start">600 mA</text>
<path d="M457.30 38.20H485.50" stroke="#f00" stroke-width="1.10"/>
<rect x="469.00" y="35.90" width="4.60" height="4.60" fill="#f00"/>
<text transform="translate(488.60 42.60) scale(1 1.000)" font-size="12.40" text-anchor="start">800 mA</text>
<path d="M457.30 53.70H485.50" stroke="#00f" stroke-width="1.10"/>
<rect x="469.00" y="51.40" width="4.60" height="4.60" fill="#00f"/>
<text transform="translate(488.60 58.10) scale(1 1.000)" font-size="12.40" text-anchor="start">1000 mA</text>
<path d="M182.70 195.30H210.90" stroke="#000" stroke-width="1.10"/>
<rect x="194.60" y="193.00" width="4.60" height="4.60" fill="#000"/>
<text transform="translate(214.50 199.70) scale(1 1.000)" font-size="12.40" text-anchor="start">600 mA</text>
<path d="M182.70 210.70H210.90" stroke="#f00" stroke-width="1.10"/>
<rect x="194.60" y="208.40" width="4.60" height="4.60" fill="#f00"/>
<text transform="translate(214.50 215.10) scale(1 1.000)" font-size="12.40" text-anchor="start">800 mA</text>
<path d="M182.70 225.80H210.90" stroke="#00f" stroke-width="1.10"/>
<rect x="194.60" y="223.50" width="4.60" height="4.60" fill="#00f"/>
<text transform="translate(214.50 230.20) scale(1 1.000)" font-size="12.40" text-anchor="start">1000 mA</text>
<path d="M461.00 193.60H488.60" stroke="#000" stroke-width="1.10"/>
<rect x="472.70" y="191.30" width="4.60" height="4.60" fill="#000"/>
<text transform="translate(492.60 198.00) scale(1 1.000)" font-size="12.40" text-anchor="start">600 mA</text>
<path d="M461.00 208.90H488.60" stroke="#f00" stroke-width="1.10"/>
<rect x="472.70" y="206.60" width="4.60" height="4.60" fill="#f00"/>
<text transform="translate(492.60 213.30) scale(1 1.000)" font-size="12.40" text-anchor="start">800 mA</text>
<path d="M461.00 224.10H488.60" stroke="#00f" stroke-width="1.10"/>
<rect x="472.70" y="221.80" width="4.60" height="4.60" fill="#00f"/>
<text transform="translate(492.60 228.50) scale(1 1.000)" font-size="12.40" text-anchor="start">1000 mA</text>
</g>
</svg>
</body></html>
